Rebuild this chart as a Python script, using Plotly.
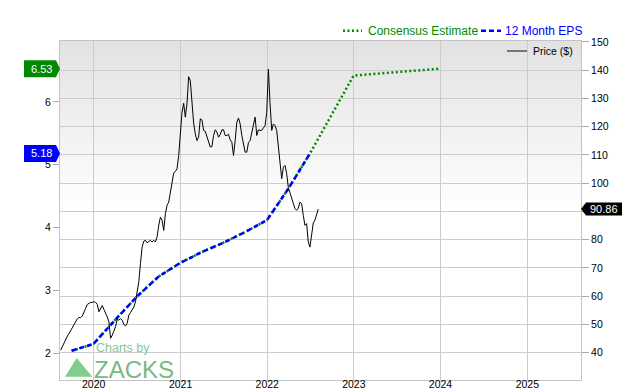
import base64
import pandas as pd
import plotly.graph_objects as go

# ---------------- data ----------------
price_start = "2019-08-15"
price_values = [
    40.9, 42.1, 43.9, 44.7, 45.9, 46.8, 47.8, 48.9, 50.1, 51.2,
    52.0, 52.5, 52.4, 53.0, 54.1, 55.7, 57.1, 57.5, 57.8, 57.8,
    58.1, 57.8, 57.1, 54.5, 55.7, 56.7, 55.3, 54.1, 52.7, 51.0,
    45.1, 46.2, 47.8, 49.2, 51.8, 51.5, 52.1, 51.5, 50.0, 49.5,
    50.4, 53.3, 54.2, 55.3, 56.2, 58.0, 62.1, 65.1, 71.6, 77.4,
    79.5, 79.8, 78.9, 79.5, 79.8, 79.2, 79.8, 79.2, 81.0, 85.1,
    88.0, 86.9, 83.3, 89.2, 92.2, 93.3, 96.3, 100.4, 103.6, 104.2,
    105.1, 109.8, 118.7, 125.1, 128.3, 123.4, 128.1, 137.7, 136.3, 126.9,
    121.3, 117.5, 115.1, 116.3, 122.8, 122.4, 118.7, 118.4, 116.5, 115.1,
    112.8, 113.0, 116.9, 118.9, 118.1, 116.3, 117.3, 118.9, 118.9, 116.9,
    116.9, 117.3, 115.4, 114.5, 109.8, 115.1, 121.6, 123.1, 121.0, 116.9,
    113.7, 111.0, 111.0, 114.4, 115.1, 117.7, 119.6, 123.4, 116.9, 118.9,
    118.7, 118.7, 119.6, 120.4, 125.1, 140.4, 128.1, 118.7, 121.0, 120.4,
    118.7, 112.2, 106.9, 101.6, 105.7, 106.3, 103.4, 98.4, 96.6, 94.5,
    92.2, 91.0, 90.4, 91.2, 93.3, 92.8, 88.6, 85.1, 85.7, 79.2,
    77.4, 82.7, 85.9, 86.9, 89.0, 90.86,
]
price_dates = pd.date_range(price_start, periods=len(price_values), freq="7D")

eps_dates = ["2019-09-30", "2019-12-31", "2020-03-31", "2020-06-30",
             "2020-09-30", "2020-12-31", "2021-03-31", "2021-06-30",
             "2021-09-30", "2021-12-31", "2022-03-31", "2022-06-30"]
eps_values = [2.04, 2.15, 2.53, 2.90, 3.22, 3.44, 3.61, 3.76, 3.93, 4.12, 4.62, 5.18]

est_dates = eps_dates + ["2022-12-31", "2023-12-31"]
est_values = eps_values + [6.42, 6.53]

last_price = price_values[-1]
last_eps = eps_values[-1]
last_est = est_values[-1]

x_tick_vals = ["2020-01-01", "2021-01-01", "2022-01-01", "2023-01-01", "2024-01-01", "2025-01-01"]
x_tick_text = ["2020", "2021", "2022", "2023", "2024", "2025"]
left_ticks = [2, 3, 4, 5, 6]
right_ticks = [40, 50, 60, 70, 80, 90, 100, 110, 120, 130, 140, 150]
# the 90 label is hidden behind the price tag in the reference
right_tick_text = ["40", "50", "60", "70", "80", "", "100", "110", "120", "130", "140", "150"]

FONT = "Liberation Sans, Arial, Helvetica, sans-serif"
GREEN = "#008a00"
BLUE = "#0000ff"

fig = go.Figure()

fig.add_trace(go.Scatter(x=est_dates, y=est_values, mode="lines", yaxis="y",
                         line=dict(color=GREEN, width=2.5, dash="2px,2.5px"),
                         showlegend=False, hoverinfo="skip"))
fig.add_trace(go.Scatter(x=eps_dates, y=eps_values, mode="lines", yaxis="y",
                         line=dict(color=BLUE, width=2.5, dash="5px,3px"),
                         showlegend=False, hoverinfo="skip"))
fig.add_trace(go.Scatter(x=price_dates, y=price_values, mode="lines", yaxis="y2",
                         line=dict(color="#000000", width=1),
                         showlegend=False, hoverinfo="skip"))

# gradient background image (decorative)
svg = ('<svg xmlns="http://www.w3.org/2000/svg" width="10" height="100" preserveAspectRatio="none">'
       '<defs><linearGradient id="g" x1="0" y1="0" x2="0" y2="1">'
       '<stop offset="0" stop-color="#e2e2e2"/><stop offset="0.5" stop-color="#ffffff"/>'
       '</linearGradient></defs><rect width="10" height="100" fill="url(#g)"/></svg>')
svg_uri = "data:image/svg+xml;base64," + base64.b64encode(svg.encode()).decode()

shapes = []
annotations = []

# value tags
def left_tag(value, color):
    shapes.append(dict(type="path", xref="paper", yref="y", xsizemode="pixel", ysizemode="pixel",
                       xanchor=0, yanchor=value,
                       path="M 0,0 L -4,8.5 L -36,8.5 L -36,-8.5 L -4,-8.5 Z",
                       fillcolor=color, line=dict(width=0), layer="above"))
    annotations.append(dict(x=0, y=value, xref="paper", yref="y", xshift=-19, showarrow=False,
                            text=f"{value:.2f}", font=dict(family=FONT, size=11, color="white"),
                            xanchor="center", yanchor="middle"))

left_tag(last_est, GREEN)
left_tag(last_eps, BLUE)

shapes.append(dict(type="path", xref="paper", yref="y2", xsizemode="pixel", ysizemode="pixel",
                   xanchor=1, yanchor=last_price,
                   path="M 0,0 L 5,6.5 L 41,6.5 L 41,-6.5 L 5,-6.5 Z",
                   fillcolor="#000000", line=dict(width=0), layer="above"))
annotations.append(dict(x=1, y=last_price, xref="paper", yref="y2", xshift=23, showarrow=False,
                        text=f"{last_price:.2f}", font=dict(family=FONT, size=11, color="white"),
                        xanchor="center", yanchor="middle"))

# legend
def px_x(px):
    return (px - 60) / 521

def px_y(py):
    return (380 - py) / 339

shapes.append(dict(type="line", xref="paper", yref="paper", x0=px_x(343), x1=px_x(362),
                   y0=px_y(30.7), y1=px_y(30.7), line=dict(color=GREEN, width=2.5, dash="2px,2.5px")))
annotations.append(dict(x=px_x(366), y=px_y(30.7), xref="paper", yref="paper", showarrow=False,
                        text="Consensus Estimate", xanchor="left", yanchor="middle",
                        font=dict(family=FONT, size=12, color=GREEN)))
shapes.append(dict(type="line", xref="paper", yref="paper", x0=px_x(481), x1=px_x(501),
                   y0=px_y(30.7), y1=px_y(30.7), line=dict(color=BLUE, width=2.5, dash="5px,3px")))
annotations.append(dict(x=px_x(503), y=px_y(30.7), xref="paper", yref="paper", showarrow=False,
                        text="12 Month EPS", xanchor="left", yanchor="middle",
                        font=dict(family=FONT, size=12, color=BLUE)))
shapes.append(dict(type="line", xref="paper", yref="paper", x0=px_x(507), x1=px_x(527),
                   y0=px_y(51), y1=px_y(51), line=dict(color="#777777", width=2)))
annotations.append(dict(x=px_x(531), y=px_y(51), xref="paper", yref="paper", showarrow=False,
                        text="Price ($)", xanchor="left", yanchor="middle",
                        font=dict(family=FONT, size=10.5, color="#000000")))

# Zacks logo
shapes.append(dict(type="path", xref="paper", yref="paper",
                   path=f"M {px_x(76.7)},{px_y(358)} L {px_x(92.3)},{px_y(376.7)} L {px_x(65)},{px_y(376.7)} Z",
                   fillcolor="#82cc8e", line=dict(width=0), layer="above"))
annotations.append(dict(x=px_x(94), y=px_y(348), xref="paper", yref="paper", showarrow=False,
                        text="Charts by", xanchor="left", yanchor="middle",
                        font=dict(family=FONT, size=12.5, color="#8cc497")))
annotations.append(dict(x=px_x(92), y=px_y(368.5), xref="paper", yref="paper", showarrow=False,
                        text="ZACKS", xanchor="left", yanchor="middle", height=20, valign="middle",
                        font=dict(family=FONT, size=24, color="#7ab886")))

fig.update_layout(
    width=640, height=390,
    margin=dict(l=60, r=59, t=41, b=10, autoexpand=False),
    paper_bgcolor="white",
    plot_bgcolor="rgba(0,0,0,0)",
    template="none",
    showlegend=False,
    images=[dict(source=svg_uri, xref="paper", yref="paper", x=0, y=1, sizex=1, sizey=1,
                 xanchor="left", yanchor="top", sizing="stretch", layer="below")],
    shapes=shapes,
    annotations=annotations,
    xaxis=dict(type="date", range=["2019-08-12", "2025-08-15"],
               tickmode="array", tickvals=x_tick_vals, ticktext=x_tick_text,
               showgrid=True, gridcolor="#cccccc", gridwidth=1,
               showline=True, linecolor="#c4c4c4", linewidth=1, mirror=True,
               ticks="", automargin=False, zeroline=False, ticklabelstandoff=-6,
               tickfont=dict(family=FONT, size=10.5, color="#000000")),
    yaxis=dict(range=[1.5755, 6.970], tickmode="array", tickvals=left_ticks,
               showgrid=False, zeroline=False, showline=True, linecolor="#c4c4c4",
               ticks="outside", ticklen=6, tickcolor="#aaaaaa", automargin=False,
               tickfont=dict(family=FONT, size=10.5, color="#000000")),
    yaxis2=dict(range=[30.34, 150.35], overlaying="y", side="right",
                tickmode="array", tickvals=right_ticks, ticktext=right_tick_text,
                showgrid=True, gridcolor="#cccccc", gridwidth=1, zeroline=False,
                showline=True, linecolor="#c4c4c4", ticks="outside", ticklen=7,
                tickcolor="#aaaaaa", automargin=False,
                tickfont=dict(family=FONT, size=10.5, color="#000000")),
)

fig.write_html("out.html")
